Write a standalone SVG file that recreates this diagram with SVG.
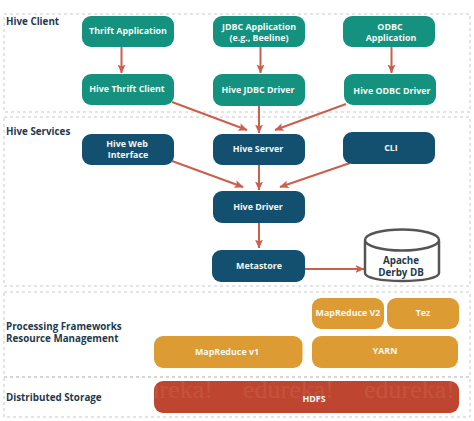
<svg xmlns="http://www.w3.org/2000/svg" width="474" height="421" viewBox="0 0 474 421">
<style>
text{font-family:"Open Sans","Noto Sans",sans-serif;font-weight:700}
.n{font-size:8.9px;fill:#f2f8f6;text-anchor:middle}
.h{font-size:9.8px;fill:#1f3a4d}
.t{fill:#14917f}.b{fill:#13506f}.y{fill:#dd9c33}.r{fill:#be4630}
.z{fill:none;stroke:#c9c9c9;stroke-width:1;stroke-dasharray:3 3}
.c{stroke:#c9604c;stroke-width:2;fill:none;marker-end:url(#a)}
.w{font-family:"Liberation Serif",serif;font-weight:400;font-size:26px;fill:#fff;opacity:.07}
</style>
<defs><marker id="a" markerUnits="userSpaceOnUse" markerWidth="10" markerHeight="9" refX="8.500" refY="4.500" orient="auto"><path d="M0 0.500L9 4.500L0 8.500L2 4.500Z" fill="#c9604c"/></marker></defs>
<rect width="474" height="421" fill="#fff"/>
<g id="zones">
<rect class="z" x="4" y="14" width="466" height="98"/>
<rect class="z" x="4" y="117" width="466" height="169"/>
<rect class="z" x="4" y="292" width="466" height="85"/>
<rect class="z" x="4" y="377" width="466" height="40"/>
</g>
<g id="zone-labels">
<text class="h" x="6" y="25">Hive Client</text>
<text class="h" x="6" y="135">Hive Services</text>
<text class="h" x="6" y="330">Processing Frameworks</text>
<text class="h" x="6" y="342">Resource Management</text>
<text class="h" x="6" y="401">Distributed Storage</text>
</g>
<g id="connectors">
<path class="c" d="M121.500 47V73"/>
<path class="c" d="M260.500 47V73"/>
<path class="c" d="M391.500 47V73"/>
<path class="c" d="M172 102L247 130"/>
<path class="c" d="M259 106V133"/>
<path class="c" d="M346 104L275 130"/>
<path class="c" d="M172 161L243 187"/>
<path class="c" d="M259 165V190"/>
<path class="c" d="M350 163L280 187"/>
<path class="c" d="M259 223V248"/>
<path class="c" d="M305 269H364"/>
</g>
<g id="thrift-app"><rect class="t" x="82" y="16" width="92" height="31" rx="9"/><text class="n" x="128" y="34">Thrift Application</text></g>
<g id="thrift-client"><rect class="t" x="82" y="74" width="92" height="31" rx="9"/><text class="n" x="127" y="92">Hive Thrift Client</text></g>
<g id="jdbc-app"><rect class="t" x="213" y="16" width="92" height="31" rx="9"/><text class="n" x="259" y="29.500">JDBC Application</text><text class="n" x="259" y="40.500">(e.g., Beeline)</text></g>
<g id="jdbc-driver"><rect class="t" x="213" y="74" width="92" height="32" rx="9"/><text class="n" x="258" y="93">Hive JDBC Driver</text></g>
<g id="odbc-app"><rect class="t" x="343" y="16" width="92" height="31" rx="9"/><text class="n" x="390" y="29.500">ODBC</text><text class="n" x="391" y="40.500">Application</text></g>
<g id="odbc-driver"><rect class="t" x="344" y="74" width="92" height="31" rx="9"/><text class="n" x="392" y="93.500">Hive ODBC Driver</text></g>
<g id="web-interface"><rect class="b" x="82" y="134" width="92" height="31" rx="9"/><text class="n" x="127" y="147">Hive Web</text><text class="n" x="128" y="158">Interface</text></g>
<g id="hive-server"><rect class="b" x="213" y="134" width="92" height="31" rx="9"/><text class="n" x="258" y="152">Hive Server</text></g>
<g id="cli"><rect class="b" x="343" y="132" width="92" height="32" rx="9"/><text class="n" x="391" y="151">CLI</text></g>
<g id="hive-driver"><rect class="b" x="213" y="191" width="92" height="32" rx="9"/><text class="n" x="258" y="210">Hive Driver</text></g>
<g id="metastore"><rect class="b" x="212" y="250" width="93" height="32" rx="9"/><text class="n" x="259" y="269">Metastore</text></g>
<g id="derby-db"><path d="M365 241V273C365 278 381 281 402 281S439 278 439 273V241" fill="#fff" stroke="#555" stroke-width="2.500"/><ellipse cx="402" cy="240" rx="37" ry="10.500" fill="#fff" stroke="#555" stroke-width="2.500"/><text class="n" style="fill:#1f3a4d;font-size:9.800px" x="401" y="264">Apache</text><text class="n" style="fill:#1f3a4d;font-size:9.800px" x="401" y="276">Derby DB</text></g>
<g id="mapreduce-v2"><rect class="y" x="312" y="298" width="72" height="31" rx="9"/><text class="n" x="348" y="316">MapReduce V2</text></g>
<g id="tez"><rect class="y" x="387" y="298" width="72" height="31" rx="9"/><text class="n" x="423" y="316">Tez</text></g>
<g id="mapreduce-v1"><rect class="y" x="154" y="336" width="148.500" height="32" rx="9"/><text class="n" x="227" y="355">MapReduce v1</text></g>
<g id="yarn"><rect class="y" x="312" y="336" width="146" height="32" rx="9"/><text class="n" x="385" y="354">YARN</text></g>
<g id="hdfs"><rect class="r" x="154" y="381" width="305" height="32" rx="9"/><text class="n" x="314" y="402">HDFS</text></g>
<g id="watermarks">
<text class="w" x="122" y="398">edureka!</text><text class="w" x="243" y="398">edureka!</text><text class="w" x="364" y="398">edureka!</text>
</g>
</svg>
